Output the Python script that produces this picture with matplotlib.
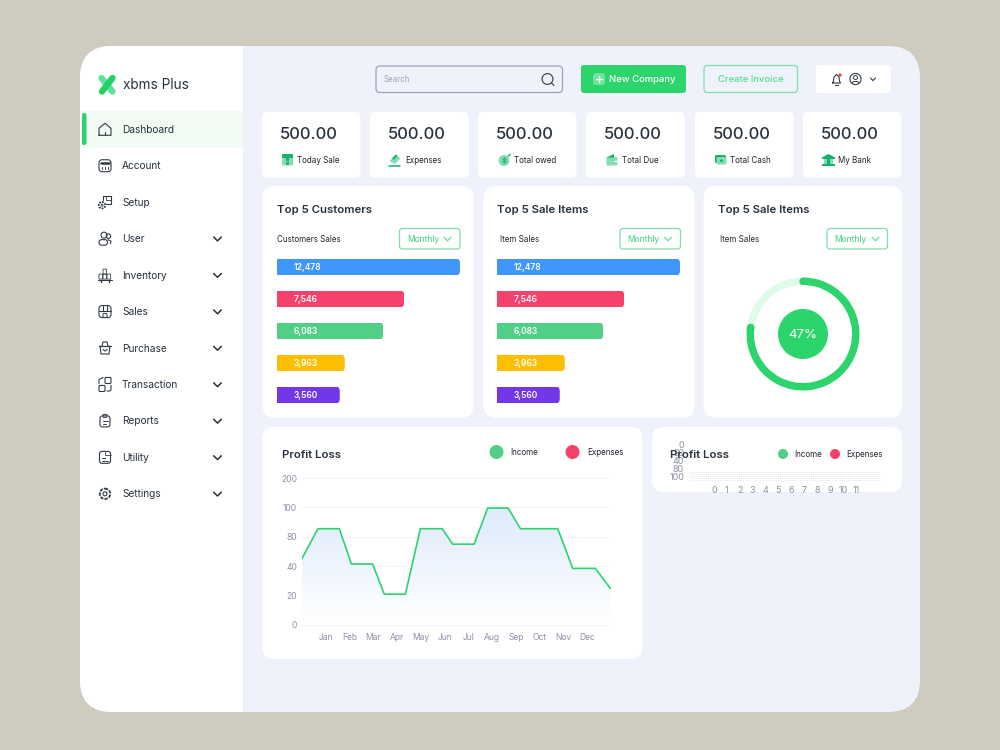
import numpy as np
import matplotlib
matplotlib.use('Agg')
import matplotlib.pyplot as plt
from matplotlib.patches import FancyBboxPatch, Circle, Rectangle, Polygon
from matplotlib.colors import LinearSegmentedColormap

plt.rcParams['font.family'] = ['Inter', 'DejaVu Sans']

# data
menu_items = ['Dashboard', 'Account', 'Setup', 'User', 'Inventory', 'Sales',
              'Purchase', 'Transaction', 'Reports', 'Utility', 'Settings']
menu_chevron = [False, False, False, True, True, True, True, True, True, True, True]
stat_values = ['500.00'] * 6
stat_labels = ['Today Sale', 'Expenses', 'Total owed', 'Total Due', 'Total Cash', 'My Bank']
bar_lengths = [100, 69.5, 58, 37, 34.3]
bar_labels = ['12,478', '7,546', '6,083', '3,963', '3,560']
bar_colors = ['#3f97fb', '#f6416c', '#51cf87', '#fbbf00', '#7237e6']
donut_percent = 47
donut_done = 77
months = ['Jan', 'Feb', 'Mar', 'Apr', 'May', 'Jun', 'Jul', 'Aug', 'Sep', 'Oct', 'Nov', 'Dec']
profit_x = [0, 0.67, 1.57, 2.08, 2.97, 3.46, 4.35, 4.98, 5.9, 6.34, 7.24, 7.81, 8.67, 9.19, 10.76, 11.39, 12.34, 12.97]
profit_y = [50.5, 85.5, 85.5, 43, 43, 21, 21, 85.5, 85.5, 70, 70, 99.5, 99.5, 85.5, 85.5, 38.5, 38.5, 25]
y_ticks = [0, 20, 40, 80, 100, 200]
small_y_labels = ['0', '20', '40', '80', '100']
small_x_labels = [str(i) for i in range(12)]

GREEN = '#2bd56b'
DARK = '#27323d'
GREY = '#8c90a4'
INK = '#333a44'
W, H = 1000, 750

fig = plt.figure(figsize=(10, 7.5), dpi=100, facecolor='#cfcbbf')
bg = fig.add_axes([0, 0, 1, 1], zorder=0)
bg.set_xlim(0, W)
bg.set_ylim(H, 0)
bg.axis('off')


def px_axes(x0, y0, x1, y1, z=2):
    a = fig.add_axes([x0 / W, 1 - y1 / H, (x1 - x0) / W, (y1 - y0) / H], zorder=z)
    a.patch.set_alpha(0)
    return a


def card(x0, y0, x1, y1, r=10, fc='white', ec='none', lw=1, z=1, ax=bg):
    p = FancyBboxPatch((x0, y0), x1 - x0, y1 - y0, boxstyle='round,pad=0,rounding_size=%s' % r,
                       fc=fc, ec=ec, lw=lw, zorder=z)
    ax.add_patch(p)
    return p


def line(xs, ys, color=INK, lw=0.8, z=5):
    bg.plot(xs, ys, color=color, lw=lw, zorder=z, solid_capstyle='round', solid_joinstyle='round')


def chevron(x, y, s=4, color=INK, lw=1.1):
    line([x - s, x, x + s], [y - s * 0.5, y + s * 0.5, y - s * 0.5], color=color, lw=lw)


def outline(x, y, w, h, r=2, color=INK, lw=0.8):
    card(x, y, x + w, y + h, r=r, fc='none', ec=color, lw=lw, z=5)


# sidebar icons, roughly traced
def icon(name, x, y):
    if name == 'Dashboard':
        line([x - 6, x - 6, x, x + 6, x + 6, x - 6], [y + 6, y - 1, y - 6, y - 1, y + 6, y + 6])
        line([x, x], [y + 3, y + 6])
    elif name == 'Account':
        outline(x - 6, y - 6, 12, 12, r=3)
        line([x - 4, x + 4], [y - 2.5, y - 2.5], lw=1.8)
        line([x - 3, x - 3], [y + 1, y + 3.5], lw=0.7)
        line([x, x], [y + 1, y + 3.5], lw=0.7)
        line([x + 3, x + 3], [y + 1, y + 3.5], lw=0.7)
    elif name == 'Setup':
        line([x - 2, x - 2, x + 1, x + 6, x + 6, x + 1], [y - 2, y - 6, y - 6, y - 6, y + 2, y + 2])
        line([x + 1, x + 1, x + 6], [y - 6, y - 2, y - 2], lw=0.6)
        bg.add_patch(Circle((x - 3, y + 3), 3.2, fc='white', ec=INK, lw=1.3, zorder=6, ls=(0, (1, 0.6))))
        bg.add_patch(Circle((x - 3, y + 3), 1, fc='none', ec=INK, lw=0.6, zorder=6))
    elif name == 'User':
        bg.add_patch(Circle((x - 1, y - 3.5), 3, fc='none', ec=INK, lw=0.8, zorder=5))
        bg.add_patch(Circle((x + 3.5, y - 2.5), 2.2, fc='none', ec=INK, lw=0.8, zorder=5))
        card(x - 6, y + 1, x + 2.5, y + 6.5, r=2.6, fc='white', ec=INK, lw=0.8, z=5.1)
        line([x + 3, x + 6, x + 5.5], [y + 1, y + 2.5, y + 5])
    elif name == 'Inventory':
        for dx in [-6, -2, 2]:
            outline(x + dx, y - 1, 3.6, 5, r=0.4, lw=0.6)
        outline(x - 2, y - 6, 3.6, 5, r=0.4, lw=0.6)
        line([x - 7, x + 7], [y + 4.5, y + 4.5], lw=0.8)
        line([x - 4.5, x - 4.5], [y + 4.5, y + 6.5], lw=1)
        line([x + 4, x + 4], [y + 4.5, y + 6.5], lw=1)
    elif name == 'Sales':
        outline(x - 6, y - 6, 12, 12, r=3)
        line([x - 6, x + 6], [y - 1, y - 1])
        line([x - 2, x - 2], [y - 6, y - 1])
        line([x + 2, x + 2], [y - 6, y - 1])
        outline(x - 2, y + 2, 4, 4, r=0.8, lw=0.7)
    elif name == 'Purchase':
        line([x - 6, x + 6], [y - 2, y - 2], lw=0.9)
        line([x - 5, x - 4, x + 4, x + 5], [y - 2, y + 6, y + 6, y - 2])
        line([x - 3, x - 2, x + 2, x + 3], [y - 2, y - 6, y - 6, y - 2])
        line([x - 2, x, x + 2], [y + 1.5, y + 3, y + 1.5])
    elif name == 'Transaction':
        line([x - 6, x - 6, x - 2], [y - 1, y - 5, y - 7])
        outline(x, y - 7, 6, 6, r=1)
        outline(x - 6, y + 1, 6, 6, r=1)
        line([x + 2, x + 5, x + 6, x + 6], [y + 6.5, y + 6.5, y + 5, y + 1])
    elif name == 'Reports':
        outline(x - 5, y - 5, 10, 11, r=2.5)
        outline(x - 2, y - 6.5, 4, 3, r=0.8, lw=0.7)
        line([x - 2.5, x + 2.5], [y, y], lw=0.7)
        line([x - 2.5, x + 0.5], [y + 2.8, y + 2.8], lw=0.7)
    elif name == 'Utility':
        outline(x - 5.5, y - 6, 11, 12, r=2.5)
        line([x - 3, x + 3], [y + 3.5, y + 3.5], lw=0.7)
        line([x - 3, x - 0.5], [y + 0.5, y + 0.5], lw=0.7)
        line([x, x, x + 5.5], [y - 6, y - 2.5, y - 2.5], lw=0.6)
    elif name == 'Settings':
        bg.add_patch(Circle((x, y), 5.2, fc='none', ec=INK, lw=1.3, ls=(0, (1.8, 0.7)), zorder=5))
        bg.add_patch(Circle((x, y), 2, fc='none', ec=INK, lw=0.8, zorder=5))


def stat_icon(name, x, y):
    dk = '#14b06c'
    lt = '#83dcb2'
    if name == 'Today Sale':
        card(x - 5.5, y - 6, x + 5.5, y + 5.5, r=1.5, fc=lt, z=3)
        card(x - 5.5, y - 6, x + 5.5, y - 2, r=1.2, fc=dk, z=3)
        card(x - 1.4, y - 3, x + 1.4, y + 5, r=1, fc=dk, z=4)
        bg.add_patch(Rectangle((x - 1.4, y + 0.5), 2.8, 1, fc=lt, ec='none', zorder=4.5))
    elif name == 'Expenses':
        bg.add_patch(Polygon([[x - 5.5, y + 1], [x + 1, y - 5.5], [x + 5.5, y - 1.5], [x, y + 4]], fc=lt, ec='none', zorder=3))
        bg.add_patch(Polygon([[x - 3, y - 1.5], [x + 1, y - 5.5], [x + 2.5, y - 4], [x - 1.5, y]], fc=dk, ec='none', zorder=4))
        line([x - 6, x + 5], [y + 5.5, y + 5.5], color=dk, lw=1.1)
    elif name == 'Total owed':
        bg.add_patch(Circle((x, y + 0.5), 5.5, fc=lt, ec='none', zorder=3))
        bg.text(x, y + 0.7, '$', color=dk, fontsize=5.5, ha='center', va='center', fontweight='bold', zorder=4)
        line([x + 4.2, x + 6.2], [y - 3.8, y - 6], color=dk, lw=1)
    elif name == 'Total Due':
        card(x - 5.5, y - 3, x + 5.5, y + 5.5, r=1.5, fc=lt, z=3)
        bg.add_patch(Polygon([[x - 5.5, y - 2.5], [x + 2, y - 6], [x + 2, y - 2.5]], fc=dk, ec='none', zorder=3.5))
        line([x + 2, x + 5], [y + 0.5, y + 0.5], color='white', lw=0.9)
    elif name == 'Total Cash':
        card(x - 5.5, y - 5, x + 5.5, y + 3, r=1.5, fc=dk, z=3)
        card(x - 4, y - 3, x + 6, y + 4.5, r=1.5, fc=lt, z=3.5)
        bg.add_patch(Circle((x + 1, y + 0.7), 1.4, fc=dk, ec='none', zorder=4))
    elif name == 'My Bank':
        bg.add_patch(Polygon([[x - 6.5, y - 2.5], [x, y - 6], [x + 6.5, y - 2.5], [x + 6.5, y - 1], [x - 6.5, y - 1]], fc=dk, ec='none', zorder=3))
        bg.add_patch(Rectangle((x - 4.5, y - 1), 9, 4.5, fc=lt, ec='none', zorder=3))
        bg.add_patch(Rectangle((x - 1.3, y - 1), 2.6, 4.5, fc=dk, ec='none', zorder=3.5))
        bg.add_patch(Rectangle((x - 6.5, y + 3.5), 13, 2, fc=dk, ec='none', zorder=3))


# panels
card(80, 46, 920, 712, r=32, fc='#eff2fb', z=0.5)
side_clip = FancyBboxPatch((80, 46), 840, 666, boxstyle='round,pad=0,rounding_size=32',
                           fc='none', ec='none', transform=bg.transData)
bg.add_patch(side_clip)
side = Rectangle((80, 46), 163, 666, fc='white', ec='none', zorder=0.7)
bg.add_patch(side)
side.set_clip_path(side_clip)

# logo
line([101.5, 112.5], [78, 91.5], color='#5fe39a', lw=4.6)
line([112.5, 102], [78, 91.5], color='#20d263', lw=4.6, z=5.1)
bg.text(123, 85.3, 'xbms Plus', fontsize=9.8, color=DARK, va='center', zorder=5)

# menu
card(82, 111, 243, 148, r=0.1, fc='#effbf3', z=1)
card(82, 113, 86.5, 145, r=2.2, fc=GREEN, z=2)
for i, item in enumerate(menu_items):
    yy = 129.3 + i * 36.45
    icon(item, 105, yy)
    bg.text(122, yy + 0.5, item, fontsize=7.3, color=DARK, va='center', zorder=5)
    if menu_chevron[i]:
        chevron(217.5, yy + 0.3, s=3.8, color='#2a2f38', lw=1.1)

# top bar
card(376, 66, 562.5, 92.5, r=4, fc='#eff2fb', ec='#9aa3bd', lw=0.9, z=1)
bg.text(384, 79.5, 'Search', fontsize=5.7, color='#9da3b6', va='center', zorder=5)
bg.add_patch(Circle((547.5, 79), 5.4, fc='none', ec=INK, lw=0.8, zorder=5))
line([551.5, 554], [83, 85.5])
card(581, 65, 686, 93, r=3, fc=GREEN, z=1)
card(593, 73, 605, 85, r=3, fc='#6fe49b', z=2)
line([596, 602], [79, 79], color='white', lw=1)
line([599, 599], [76, 82], color='white', lw=1)
bg.text(609, 79.3, 'New Company', fontsize=6.8, color='white', va='center', fontweight='medium', zorder=5)
card(704, 65.5, 797.5, 92.5, r=3.5, fc='#eff2fb', ec='#7fe0a5', lw=0.9, z=1)
bg.text(750.7, 79.3, 'Create Invoice', fontsize=6.8, color='#55dd8a', ha='center', va='center', fontweight='medium', zorder=5)
card(816, 65, 891, 93, r=3, fc='white', z=1)
line([832.5, 833.5, 834, 836.5, 839, 839.5, 840.5, 832.5], [83, 81, 77, 74.5, 77, 81, 83, 83])
line([835, 838], [85, 85])
bg.add_patch(Circle((840, 75), 1.6, fc='#f0413a', ec='none', zorder=6))
bg.add_patch(Circle((855.5, 79), 5.6, fc='none', ec=INK, lw=0.8, zorder=5))
bg.add_patch(Circle((855.5, 77.5), 2, fc='none', ec=INK, lw=0.7, zorder=5))
line([852, 853.5, 857.5, 859], [83, 81.5, 81.5, 83], lw=0.7)
chevron(873, 79.3, s=2.5, lw=0.8)

# stat cards
stat_x = [262, 370, 478, 586, 695, 803]
label_x = [297, 405, 514, 622, 730, 838]
icon_x = [287.5, 395, 504, 612, 720.5, 828.5]
for i in range(6):
    x0 = stat_x[i]
    card(x0, 112, x0 + 98.5, 177.5, r=5, z=1)
    bg.text(x0 + 47, 134.5, stat_values[i], fontsize=12, color=DARK, ha='center', va='center', fontweight='medium', zorder=5)
    bg.text(label_x[i], 160.8, stat_labels[i], fontsize=5.8, color='#20262e', va='center', zorder=5)
    stat_icon(stat_labels[i], icon_x[i], 160)

# bar cards
bar_cards = [(262.5, 473.5, 'Top 5 Customers', 'Customers Sales', 277, 460, 277, 399.5),
             (483.5, 694.5, 'Top 5 Sale Items', 'Item Sales', 497, 680, 499.5, 620)]
for c0, c1, title, sub, bx0, bx1, subx, ddx in bar_cards:
    card(c0, 186, c1, 417.5, r=12, z=1)
    bg.text(bx0, 209.8, title, fontsize=8.2, color=DARK, va='center', fontweight='semibold', zorder=5)
    bg.text(subx, 239, sub, fontsize=5.8, color='#20262e', va='center', zorder=5)
    card(ddx, 228.5, ddx + 60.5, 249, r=3, fc='white', ec='#7fe0a5', lw=0.9, z=2)
    bg.text(ddx + 7.5, 239.2, 'Monthly', fontsize=6.1, color='#3cd47a', va='center', zorder=5)
    chevron(ddx + 48, 239, s=3.4, color='#5cd88d', lw=0.8)

    ax = px_axes(bx0, 251, bx1, 411)
    ypos = np.arange(len(bar_lengths))
    bars = ax.barh(ypos, bar_lengths, height=0.53, color=bar_colors)
    ax.set_xlim(0, 100)
    ax.set_ylim(4.5, -0.5)
    ax.axis('off')
    xunit = (bx1 - bx0) / 100.0
    for b, lab in zip(bars, bar_labels):
        # round only the right end, left end stays square
        clip = FancyBboxPatch((-10, b.get_y()), b.get_width() + 10, b.get_height(),
                              boxstyle='round,pad=0,rounding_size=%s' % (4.5 / xunit),
                              mutation_aspect=xunit / 32.0, fc='none', ec='none', transform=ax.transData)
        b.set_clip_path(clip)
        ax.text(9, b.get_y() + b.get_height() / 2 + 0.01, lab, color='white', fontsize=6.1, va='center', ha='left', fontweight='semibold')

# donut card
card(703.5, 186, 902, 417.5, r=12, z=1)
bg.text(718, 209.8, 'Top 5 Sale Items', fontsize=8.2, color=DARK, va='center', fontweight='semibold', zorder=5)
bg.text(720, 239, 'Item Sales', fontsize=5.8, color='#20262e', va='center', zorder=5)
card(827, 228.5, 887.5, 249, r=3, fc='white', ec='#7fe0a5', lw=0.9, z=2)
bg.text(834.5, 239.2, 'Monthly', fontsize=6.1, color='#3cd47a', va='center', zorder=5)
chevron(875.5, 239, s=3.4, color='#5cd88d', lw=0.8)

dax = px_axes(743, 274, 863, 394)
dax.pie([donut_done, 100 - donut_done], startangle=90, counterclock=False, radius=56.5,
        colors=[GREEN, '#dffbe9'], center=(0, 0), wedgeprops=dict(width=7.5), frame=True)
dax.set_aspect('equal')
dax.set_xlim(-60, 60)
dax.set_ylim(-60, 60)
dax.axis('off')
ang = np.deg2rad(90 - np.array([0, donut_done]) * 3.6)
dax.add_patch(Circle((52.7 * np.cos(ang[0]), 52.7 * np.sin(ang[0])), 3.75, fc=GREEN, ec='none', zorder=5))
dax.add_patch(Circle((52.7 * np.cos(ang[1]), 52.7 * np.sin(ang[1])), 3.75, fc=GREEN, ec='none', zorder=5))
dax.add_patch(Circle((0, 0), 25, fc=GREEN, ec='none', zorder=5))
dax.text(0, -1, '%d%%' % donut_percent, color='white', fontsize=9.5, ha='center', va='center', zorder=6)

# profit loss card
card(262.5, 427, 642.5, 659, r=12, z=1)
bg.text(281.5, 454.8, 'Profit Loss', fontsize=8.2, color=DARK, va='center', fontweight='semibold', zorder=5)
bg.add_patch(Circle((496.5, 452), 7, fc='#51cf87', ec='none', zorder=5))
bg.text(510.5, 452.5, 'Income', fontsize=5.8, color='#20262e', va='center', zorder=5)
bg.add_patch(Circle((572.5, 452), 7, fc='#f6416c', ec='none', zorder=5))
bg.text(587, 452.5, 'Expenses', fontsize=5.8, color='#20262e', va='center', zorder=5)

lax = px_axes(302, 478, 611, 625)
tick_pos = np.arange(len(y_ticks))
lax.set_yscale('function', functions=(lambda v: np.interp(v, y_ticks, tick_pos),
                                      lambda p: np.interp(p, tick_pos, y_ticks)))
lax.set_xlim(0, 13)
lax.set_ylim(0, 200)
lax.set_yticks(y_ticks)
lax.set_xticks(np.arange(1, 13), months)
lax.minorticks_off()
lax.tick_params(length=0, labelsize=6.1, labelcolor=GREY)
lax.tick_params(axis='x', pad=6)
lax.tick_params(axis='y', pad=3.5)
for s in lax.spines.values():
    s.set_visible(False)
lax.grid(axis='y', color='#e8eaef', lw=0.7, ls=(0, (2, 2)), clip_on=False)
lax.set_axisbelow(True)
lax.plot(profit_x, profit_y, color='#2dd36f', lw=1.2, solid_joinstyle='round', zorder=3)
poly = lax.fill_between(profit_x, 0, profit_y, color='none')
cmap = LinearSegmentedColormap.from_list('g', ['#ffffff', '#dceafb'])
yy = np.interp(np.linspace(0, 4.1, 80), tick_pos, y_ticks)
grad = lax.pcolormesh([0, 13], yy, np.linspace(0, 1, 79).reshape(-1, 1), cmap=cmap, zorder=2, rasterized=True)
grad.set_clip_path(poly.get_paths()[0], transform=lax.transData)

# small collapsed chart card
card(652, 427, 902, 492, r=12, z=1)
sax = px_axes(690, 472, 880, 480, z=2)
sax.set_xlim(-1.86, 12.87)
sax.set_ylim(4, 0)
sax.set_xticks(np.arange(0, 12))
sax.set_xticklabels(small_x_labels)
sax.set_yticks([])
for s in sax.spines.values():
    s.set_visible(False)
sax.tick_params(length=0, labelsize=6.5, labelcolor=GREY, pad=4)
for yv in range(5):
    sax.axhline(yv, color='#e6e8ee', lw=0.7, ls=(0, (1, 1)), clip_on=False)
for lab, yv in zip(small_y_labels, [446, 453.5, 461, 469, 477]):
    bg.text(684, yv, lab, fontsize=6.5, color=GREY, ha='right', va='center', zorder=3)
ov = px_axes(0, 0, W, H, z=6)
ov.set_xlim(0, W)
ov.set_ylim(H, 0)
ov.axis('off')
ov.text(670.5, 454.8, 'Profit Loss', fontsize=8.2, color=DARK, va='center', fontweight='semibold')
ov.add_patch(Circle((783, 454), 5, fc='#51cf87', ec='none'))
ov.text(794.5, 454.5, 'Income', fontsize=5.8, color='#20262e', va='center')
ov.add_patch(Circle((835, 454), 5, fc='#f6416c', ec='none'))
ov.text(846.5, 454.5, 'Expenses', fontsize=5.8, color='#20262e', va='center')

fig.savefig('out.png', dpi=100, facecolor=fig.get_facecolor())
